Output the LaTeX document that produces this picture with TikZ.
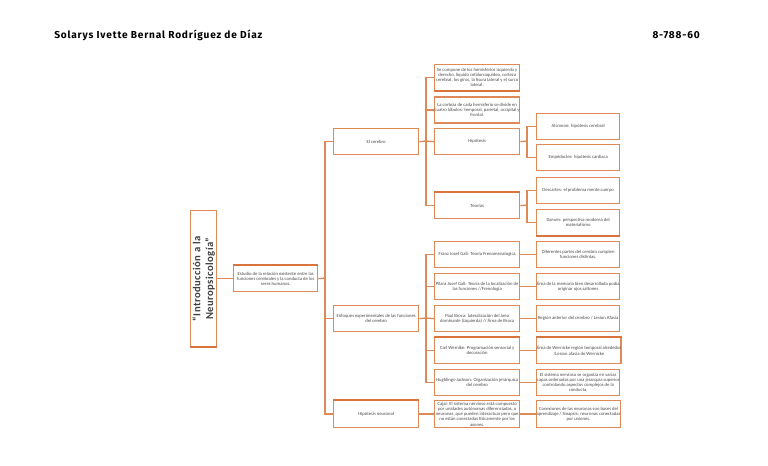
\documentclass[tikz,border=0pt]{standalone}
\usepackage{fontspec}
\setmainfont{Carlito}
\newfontfamily\headfont[LetterSpace=8]{Fira Sans Bold}
\newfontfamily\titlefont[LetterSpace=4]{Carlito Bold}
\definecolor{boxline}{HTML}{DE8A58}
\definecolor{boxheavy}{HTML}{D9743C}
\definecolor{boxtext}{HTML}{4A4A4A}
\tikzset{
  x=0.75pt,y=-0.75pt,
  mapbox/.style={draw=boxline,line width=1pt,fill=white,inner sep=0pt,align=center,text=boxtext,
     font=\fontsize{3.5}{3.85}\selectfont,anchor=north west},
  cthree/.style={mapbox,minimum width=63.75pt,minimum height=19.5pt},
  cfour/.style={mapbox,minimum width=62.25pt,minimum height=19.5pt},
  wire/.style={draw=boxline,line width=1pt},
  heavy/.style={draw=boxheavy,line width=1.5pt},
  headtext/.style={font=\headfont\fontsize{7.6}{9}\selectfont,text=black,inner sep=0pt},
}
\begin{document}
\begin{tikzpicture}
\useasboundingbox (0,0) rectangle (768,466);
\fill[white] (0,0) rectangle (768,466);
\node[headtext,anchor=west] (name) at (54,35) {Solarys Ivette Bernal Rodríguez de Díaz};
\node[headtext,anchor=east] (num) at (700,35) {8-788-60};
% junctions
\coordinate (ja) at (325,278);
\coordinate (jb) at (426,141);
\coordinate (jc) at (426,318);
\coordinate (jd) at (527,141);
\coordinate (je) at (527,205);
% boxes
\node[mapbox,minimum width=19.5pt,minimum height=102pt] (title) at (190,210) {};
\node[mapbox,minimum width=63pt,minimum height=19.5pt] (estudio) at (233,265) {Estudio de la relación existente entre las\\funciones cerebrales y la conducta de los\\seres humanos.};
\node[cthree] (cerebro) at (333,128) {El cerebro};
\node[cthree] (enfoques) at (333,305) {Enfoques experimentales de las funciones\\del cerebro};
\node[cthree,minimum height=20.25pt] (neuronal) at (333,400) {Hipótesis neuronal};
\node[cthree] (hemis) at (434,64) {Se compone de los hemisferios izquierdo y\\derecho, líquido cefalorraquídeo, corteza\\cerebral, los giros, la fisura lateral y el surco\\lateral.};
\node[cthree] (corteza) at (434,96.5) {La corteza de cada hemisferio se divide en\\cuatro lóbulos: temporal, parietal, occipital y\\frontal.};
\node[cthree] (hipo) at (434,128) {Hipótesis};
\node[cthree] (teorias) at (434,192) {Teorías};
\node[cthree] (gall) at (434,241) {Franz Josef Gall: Teoría Frenomenalogica};
\node[cthree] (gallb) at (434,273) {Pilara Josef Gall: Teoría de la localización de\\las funciones //Frenología};
\node[cthree] (broca) at (434,305) {Paul Broca: lateralización del área\\dominante (izquierda) // Área de Broca};
\node[cthree] (wern) at (434,337) {Carl Wernike: Programación sensorial y\\decoración};
\node[cthree] (hugh) at (434,369) {Hughlings-Jackson: Organización jerárquica\\del cerebro};
\node[cthree,minimum height=20.25pt] (cajal) at (434,400) {Cajal: El sistema nervioso está compuesto\\por unidades autónomas diferenciadas, o\\neuronas, que pueden interactuar pero que\\no están conectadas físicamente por los\\axones.};
\node[cfour] (alc) at (536,113) {Alcmeon: hipótesis cerebral};
\node[cfour] (emp) at (536,144) {Empédocles: hipótesis cardiaca};
\node[cfour] (desc) at (536,177) {Descartes: el problema mente cuerpo};
\node[cfour] (darw) at (536,209) {Darwin: perspectiva moderna del\\materialismo};
\node[cfour] (dif) at (536,241) {Diferentes partes del cerebro cumplen\\funciones distintas.};
\node[cfour] (mem) at (536,273) {Área de la memoria bien desarrollada podía\\originar ojos saltones};
\node[cfour] (reg) at (536,305) {Región anterior del cerebro / Lesion Afasia};
\node[cfour] (areaw) at (536,337) {Área de Wernicke región temporal alrededor\\/Lesion afasia de Wernicke};
\node[cfour] (sist) at (536,369) {El sistema nervioso se organiza en varias\\capas ordenadas por una jerarquía superior\\controlando aspectos complejos de la\\conducta.};
\node[cfour,minimum height=20.25pt] (conex) at (536,400) {Conexiones de las neuronas son bases del\\aprendizaje / Sinapsis: neuronas conectadas\\por uniones.};
\node[rotate=90,align=center,inner sep=0pt,text=black!75,font=\titlefont\fontsize{8}{9.6}\selectfont] (titletext) at (title.center) {“Introducción a la\\ Neuropsicología”};
% connectors
\draw[wire] (title.east |- estudio.west) -- (estudio.west);
\draw[wire] (estudio.east) -- (ja);
\draw[wire] (ja) |- (cerebro.west);
\draw[wire] (ja) |- (enfoques.west);
\draw[wire] (ja) |- (neuronal.west);
\draw[wire] (cerebro.east) -- (jb);
\draw[wire] (jb) |- (hemis.west);
\draw[wire] (jb) |- (corteza.west);
\draw[wire] (jb) -- (hipo.west);
\draw[wire] (jb) |- (teorias.west);
\draw[wire] (enfoques.east) -- (jc);
\draw[wire] (jc) |- (gall.west);
\draw[wire] (jc) |- (gallb.west);
\draw[wire] (jc) -- (broca.west);
\draw[wire] (jc) |- (wern.west);
\draw[wire] (jc) |- (hugh.west);
\draw[wire] (neuronal.east) -- (cajal.west);
\draw[wire] (hipo.east) -- (jd);
\draw[wire] (jd) |- (alc.west);
\draw[wire] (jd) |- (emp.west);
\draw[wire] (teorias.east) -- (je);
\draw[wire] (je) |- (desc.west);
\draw[wire] (je) |- (darw.west);
\draw[wire] (gall.east) -- (dif.west);
\draw[wire] (gallb.east) -- (mem.west);
\draw[wire] (broca.east) -- (reg.west);
\draw[wire] (wern.east) -- (areaw.west);
\draw[wire] (hugh.east) -- (sist.west);
\draw[wire] (cajal.east) -- (conex.west);
% heavier edges
\draw[heavy] (title.south west) -- (title.south east);
\draw[heavy] (estudio.north west) -- (estudio.north east);
\draw[heavy] (neuronal.north west) -- (neuronal.north east);
\draw[heavy] (hemis.south west) -- (hemis.south east);
\draw[heavy] (teorias.north west) -- (teorias.north east);
\draw[heavy] (darw.south west) -- (darw.south east);
\draw[heavy] (wern.north west) -- (wern.north east);
\draw[heavy] (areaw.north west) -- (areaw.north east);
\end{tikzpicture}
\end{document}
